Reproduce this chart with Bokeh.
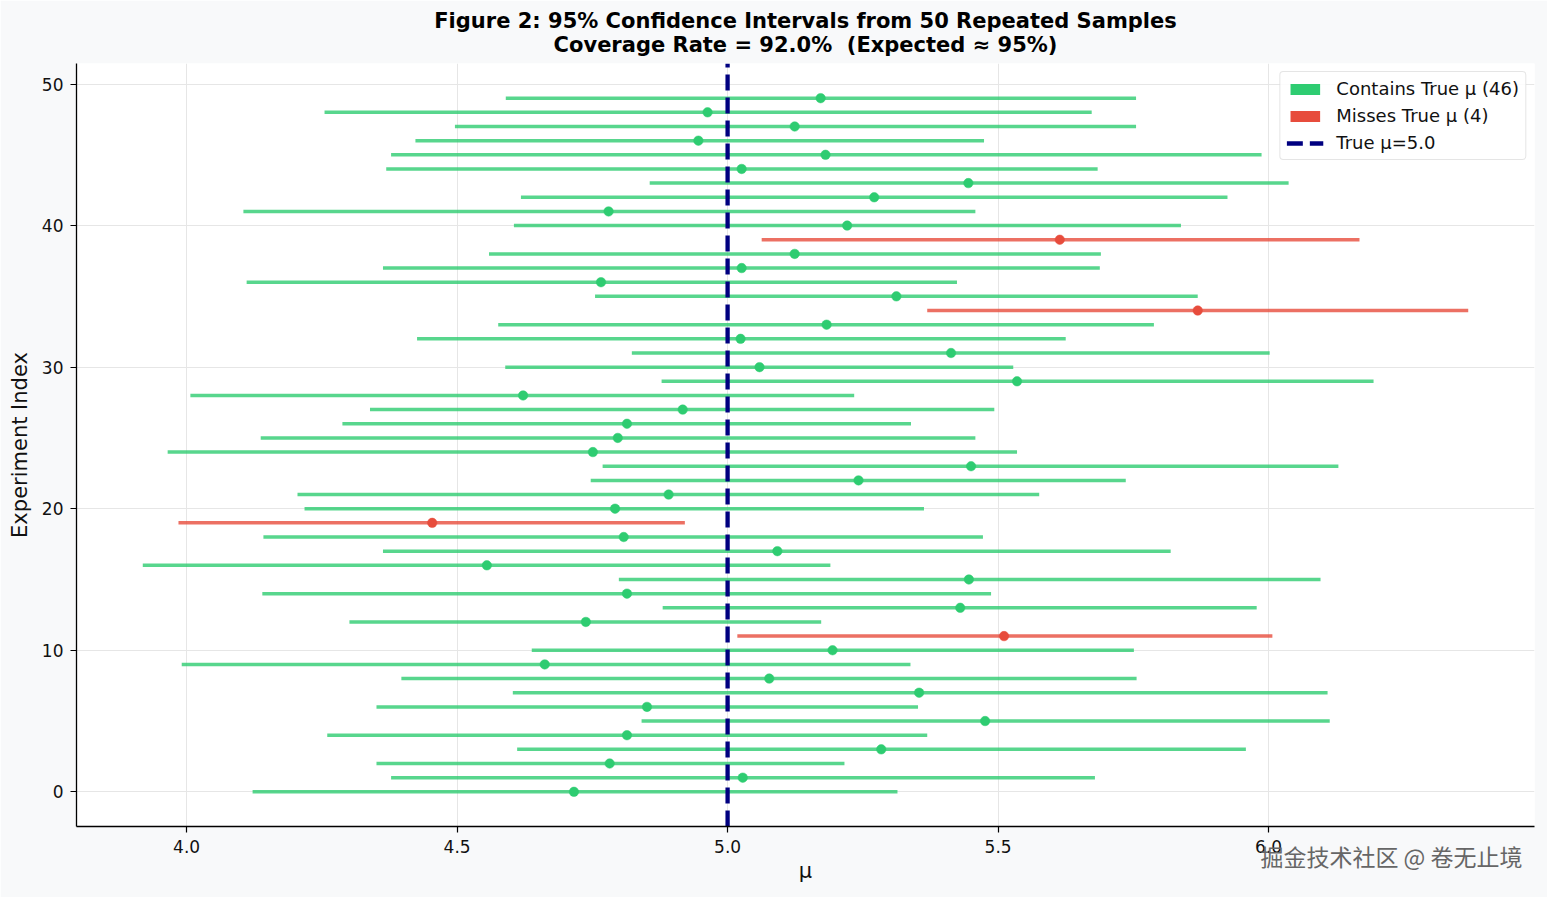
from bokeh.plotting import figure
from bokeh.models import (ColumnDataSource, Range1d, Legend, LegendItem, FixedTicker,
                          Title, PrintfTickFormatter)
from bokeh.embed import file_html
from bokeh.resources import INLINE

# ---------------- data ----------------
true_mu = 5.0
experiment_index = list(range(50))
ci_low = [4.122, 4.378, 4.351, 4.611, 4.260, 4.841, 4.351, 4.603, 4.397, 3.991,
          4.638, 5.018, 4.301, 4.880, 4.140, 4.799, 3.919, 4.363, 4.142, 3.985,
          4.218, 4.205, 4.747, 4.769, 3.965, 4.137, 4.288, 4.339, 4.007, 4.878,
          4.589, 4.823, 4.426, 4.576, 5.369, 4.755, 4.111, 4.363, 4.559, 5.063,
          4.605, 4.105, 4.618, 4.856, 4.369, 4.378, 4.423, 4.496, 4.255, 4.590]
ci_high = [5.314, 5.679, 5.216, 5.958, 5.369, 6.113, 5.352, 6.109, 5.756, 5.338,
           5.751, 6.007, 5.173, 5.978, 5.487, 6.096, 5.190, 5.819, 5.472, 4.921,
           5.363, 5.576, 5.736, 6.129, 5.535, 5.458, 5.339, 5.493, 5.234, 6.194,
           5.528, 6.002, 5.625, 5.788, 6.369, 5.869, 5.424, 5.688, 5.690, 6.168,
           5.838, 5.458, 5.924, 6.037, 5.684, 5.987, 5.474, 5.755, 5.673, 5.755]
sample_mean = [4.716, 5.028, 4.782, 5.284, 4.814, 5.476, 4.851, 5.354, 5.077, 4.662,
               5.194, 5.511, 4.738, 5.430, 4.814, 5.446, 4.555, 5.092, 4.808, 4.454,
               4.792, 4.891, 5.242, 5.450, 4.751, 4.797, 4.814, 4.917, 4.622, 5.535,
               5.059, 5.413, 5.024, 5.183, 5.869, 5.312, 4.766, 5.026, 5.124, 5.614,
               5.221, 4.780, 5.271, 5.445, 5.026, 5.181, 4.946, 5.124, 4.963, 5.172]
x_ticks = [4.0, 4.5, 5.0, 5.5, 6.0]
y_ticks = [0, 10, 20, 30, 40, 50]

GREEN = "#2ecc71"
RED = "#e74c3c"
NAVY = "#000080"
FONT = "DejaVu Sans"

contains = [lo <= true_mu <= hi for lo, hi in zip(ci_low, ci_high)]
colors = [GREEN if c else RED for c in contains]
n_hit = sum(contains)
n_miss = len(contains) - n_hit
coverage = 100.0 * n_hit / len(contains)

src = ColumnDataSource(dict(idx=experiment_index, low=ci_low, high=ci_high,
                            mean=sample_mean, color=colors))


def subset(flag):
    keep = [i for i, c in enumerate(contains) if c == flag]
    return ColumnDataSource(dict(idx=[experiment_index[i] for i in keep],
                                 low=[ci_low[i] for i in keep],
                                 high=[ci_high[i] for i in keep]))


src_hit = subset(True)
src_miss = subset(False)

# matplotlib-like 5% margins
xmin, xmax = min(ci_low), max(ci_high)
xpad = 0.05 * (xmax - xmin)
ymin, ymax = min(experiment_index), max(experiment_index)
ypad = 0.05 * (ymax - ymin)
x_lo, x_hi = xmin - xpad, xmax + xpad
y_lo, y_hi = ymin - ypad, ymax + ypad

p = figure(width=1547, height=897, output_backend="svg", toolbar_location=None,
           title=None,
           x_range=Range1d(x_lo, x_hi), y_range=Range1d(y_lo, y_hi),
           min_border_left=76, min_border_right=13, min_border_top=63, min_border_bottom=71)
p.border_fill_color = "#f8f9fa"
p.background_fill_color = "white"
p.outline_line_color = None

p.segment(x0="low", y0="idx", x1="high", y1="idx", source=src,
          line_color="color", line_alpha=0.8, line_width=3.5)
p.scatter(x="mean", y="idx", source=src, size=9.5,
          fill_color="color", line_color="color", line_width=0.5)

# legend proxies (zero-height quads over the intervals -> invisible on the plot)
r_hit = p.quad(left="low", right="high", top="idx", bottom="idx", source=src_hit,
               fill_color=GREEN, line_color=None)
r_miss = p.quad(left="low", right="high", top="idx", bottom="idx", source=src_miss,
                fill_color=RED, line_color=None)
# true mean line
r_mu = p.line(x=[true_mu, true_mu], y=[y_lo, y_hi], line_color=NAVY,
              line_width=4.3, line_dash="16 7")

legend = Legend(items=[
    LegendItem(label=f"Contains True μ ({n_hit})", renderers=[r_hit]),
    LegendItem(label=f"Misses True μ ({n_miss})", renderers=[r_miss]),
    LegendItem(label=f"True μ={true_mu}", renderers=[r_mu]),
], location="top_right")
legend.label_text_font = FONT
legend.label_text_font_size = "18px"
legend.label_text_color = "#111111"
legend.glyph_width = 37
legend.glyph_height = 14
legend.label_height = 20
legend.label_standoff = 13
legend.spacing = 6
legend.padding = 6
legend.margin = 8
legend.border_line_color = "#cccccc"
legend.border_line_width = 1
legend.border_radius = 4
legend.background_fill_color = "white"
legend.background_fill_alpha = 0.85
p.add_layout(legend)

# axes
for ax in (p.xaxis[0], p.yaxis[0]):
    ax.axis_line_color = "black"
    ax.axis_line_width = 1.3
    ax.major_tick_line_color = "black"
    ax.major_tick_line_width = 1.2
    ax.major_tick_out = 6
    ax.major_tick_in = 0
    ax.minor_tick_line_color = None
    ax.major_label_text_font = FONT
    ax.major_label_text_font_size = "17px"
    ax.major_label_text_color = "#111111"
    ax.major_label_standoff = 7
    ax.axis_label_text_font = FONT
    ax.axis_label_text_font_size = "21px"
    ax.axis_label_text_font_style = "normal"
    ax.axis_label_text_color = "#111111"

p.xaxis.ticker = FixedTicker(ticks=x_ticks)
p.yaxis.ticker = FixedTicker(ticks=y_ticks)
p.xaxis.formatter = PrintfTickFormatter(format="%.1f")
p.xaxis.axis_label = "μ"
p.yaxis.axis_label = "Experiment Index"
p.xaxis.axis_label_standoff = 3
p.yaxis.axis_label_standoff = 7

p.xgrid.ticker = FixedTicker(ticks=x_ticks)
p.ygrid.ticker = FixedTicker(ticks=y_ticks)
p.grid.grid_line_color = "#e6e6e6"
p.grid.grid_line_width = 1

# two-line title (each line centred)
title1 = "Figure 2: 95% Confidence Intervals from 50 Repeated Samples"
title2 = f"Coverage Rate = {coverage:.1f}%\u00a0 (Expected ≈ 95%)"
p.add_layout(Title(text=title2, align="center", text_font=FONT, text_font_size="21px",
                   text_font_style="bold", text_color="black", standoff=13), "above")
p.add_layout(Title(text=title1, align="center", text_font=FONT, text_font_size="21px",
                   text_font_style="bold", text_color="black", standoff=-17), "above")

# watermark (bottom-right, pulled up over the axis area)
p.add_layout(Title(text="掘金技术社区 @ 卷无止境", align="right", vertical_align="top",
                   text_font="Noto Sans CJK SC", text_font_size="23px",
                   text_font_style="normal", text_color="#666666",
                   standoff=-94, offset=12), "below")

open("out.html", "w").write(file_html(p, INLINE))
